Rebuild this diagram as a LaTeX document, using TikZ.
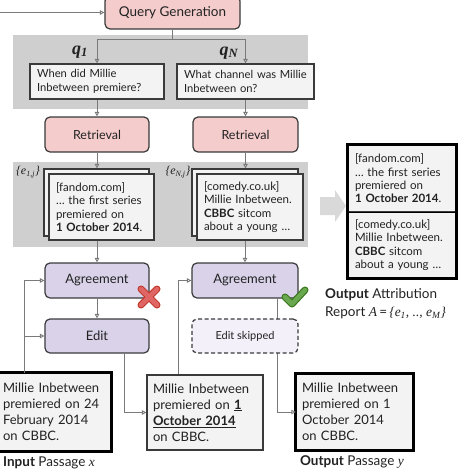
\documentclass[tikz,border=0pt]{standalone}
\usepackage{fontspec}
\setmainfont{Lato}
\newfontfamily\serifit{Liberation Serif}
\usetikzlibrary{arrows.meta,calc}
\definecolor{panelgray}{HTML}{CFCFCF}
\definecolor{boxgray}{HTML}{F3F3F3}
\definecolor{pinkfill}{HTML}{F4CCCC}
\definecolor{lavfill}{HTML}{D9D2E9}
\definecolor{lavlight}{HTML}{F3F0FA}
\definecolor{bordc}{HTML}{3A3A3A}
\definecolor{connc}{HTML}{7A7A7A}
\definecolor{txtc}{HTML}{222222}
\definecolor{xred}{HTML}{E06666}
\definecolor{xredd}{HTML}{C0392B}
\definecolor{ckgreen}{HTML}{6AA84F}
\definecolor{ckgreend}{HTML}{38761D}
\newcommand\varit[1]{{\serifit\itshape #1}}
\tikzset{
  panelbox/.style={fill=panelgray, draw=none, inner sep=0pt},
  stepbox/.style={draw=bordc, line width=1.2pt, rounded corners=5pt, inner sep=0pt, text=txtc, font=\fontsize{13}{15}\selectfont},
  pinkbox/.style={stepbox, fill=pinkfill},
  lavbox/.style={stepbox, fill=lavfill},
  qbox/.style={draw=bordc, line width=1.2pt, fill=boxgray, inner xsep=7pt, inner ysep=0pt, align=left, text=txtc, font=\fontsize{11.2}{14}\selectfont},
  evbox/.style={draw=bordc, line width=1.2pt, fill=boxgray, inner xsep=7pt, inner ysep=0pt, align=left, text=txtc, font=\fontsize{11.5}{13.3}\selectfont},
  evback/.style={draw=bordc, line width=1.2pt, fill=boxgray, inner sep=0pt},
  psgbox/.style={fill=boxgray, inner xsep=6pt, inner ysep=0pt, align=left, text=txtc, font=\fontsize{13}{16}\selectfont},
  conn/.style={draw=connc, line width=0.9pt},
  arr/.style={conn, -{Triangle[open,length=4.5pt,width=4.5pt]}},
  lbl/.style={inner sep=0pt, text=txtc, font=\fontsize{13.5}{18}\selectfont},
}
\begin{document}
\begin{tikzpicture}[x=1pt,y=-1pt]
\useasboundingbox (0,0) rectangle (474,474);
% panels
\node[panelbox, minimum width=295pt, minimum height=74pt] (panelA) at (160.5,72) {};
\node[panelbox, minimum width=295pt, minimum height=85pt] (panelB) at (160.5,204.5) {};
% query generation
\node[pinkbox, minimum width=135pt, minimum height=33pt, font=\fontsize{13.5}{16}\selectfont] (qgen) at (172.5,12.5) {Query Generation};
\coordinate (inL) at (0,12.5);
\draw[arr] (inL) -- (qgen.west);
% query boxes
\node[qbox, text width=120pt, minimum height=35pt] (q1box) at (97,81.5) {When did Millie\\Inbetween premiere?};
\node[qbox, text width=123pt, minimum height=35pt] (qNbox) at (245.5,81.5) {What channel was Millie\\Inbetween on?};
\draw[arr] (qgen.south) -- ++(0,10) -| (q1box.north);
\draw[arr] (qgen.south) -- ++(0,10) -| (qNbox.north);
\node[text=txtc, inner sep=0pt, font=\fontsize{18}{18}\selectfont] (q1lab) at (80,52) {\varit{\bfseries q\textsubscript{1}}};
\node[text=txtc, inner sep=0pt, font=\fontsize{18}{18}\selectfont] (qNlab) at (229,53) {\varit{\bfseries q\textsubscript{N}}};
% retrieval
\node[pinkbox, minimum width=104pt, minimum height=35pt, font=\fontsize{12.5}{15}\selectfont] (ret1) at (97,134.5) {Retrieval};
\node[pinkbox, minimum width=105pt, minimum height=35pt, font=\fontsize{12.5}{15}\selectfont] (retN) at (245.5,134.5) {Retrieval};
\draw[arr] (q1box.south) -- (ret1.north);
\draw[arr] (qNbox.south) -- (retN.north);
% evidence
\node[evback, minimum width=105pt, minimum height=67pt] (ev1back) at (96.5,202.5) {};
\node[evbox, text width=91pt, minimum height=66pt] (ev1) at (101.5,207) {[fandom.com]\\\dots\ the first series\\premiered on\\\textbf{1 October 2014}.};
\node[evback, minimum width=106pt, minimum height=67pt] (evNback) at (245,202.5) {};
\node[evbox, text width=92pt, minimum height=66pt] (evN) at (250,207) {[comedy.co.uk]\\Millie Inbetween.\\\textbf{CBBC} sitcom\\about a young \dots};
\draw[arr] (ret1.south) -- (ret1.south |- ev1back.north);
\draw[arr] (retN.south) -- (retN.south |- evNback.north);
\node[text=txtc, inner sep=0pt, font=\fontsize{12}{12}\selectfont] (e1lab) at (28,172) {\varit{\{e\textsubscript{1,j}\}}};
\node[text=txtc, inner sep=0pt, font=\fontsize{12}{12}\selectfont] (eNlab) at (178,172) {\varit{\{e\textsubscript{N,j}\}}};
% agreement / edit
\node[lavbox, minimum width=104pt, minimum height=35pt] (agr1) at (97,280.5) {Agreement};
\node[lavbox, minimum width=104pt, minimum height=34pt] (edit) at (97,336) {Edit};
\node[lavbox, minimum width=106pt, minimum height=35pt] (agrN) at (245,280.5) {Agreement};
\draw[arr] (agr1.north |- ev1.south) -- (agr1.north);
\draw[arr] (agrN.north |- evN.south) -- (agrN.north);
\draw[arr] (agr1.south) -- (edit.north);
% passages
\node[psgbox, text width=102pt, minimum height=78pt] (inp) at (54,412) {Millie Inbetween\\premiered on 24\\February 2014\\on CBBC.};
\draw[black, line width=3pt] (inp.north west) rectangle (inp.south east);
\node[psgbox, draw=bordc, line width=1.2pt, text width=104pt, minimum height=75pt] (mid) at (205,412.5) {Millie Inbetween\\premiered on \underline{\textbf{1}}\\\underline{\textbf{October 2014}}\\on CBBC.};
\node[psgbox, text width=105pt, minimum height=76pt] (out) at (354.5,412) {Millie Inbetween\\premiered on 1\\October 2014\\on CBBC.};
\draw[black, line width=3pt] (out.north west) rectangle (out.south east);
% feedback connectors
\coordinate (fbL) at (24,373);
\draw[arr] (fbL) |- (agr1.west);
\draw[arr] (fbL |- edit.west) -- (edit.west);
\draw[arr] ([xshift=27pt]edit.south) |- (mid.west);
\draw[arr] ([xshift=-27pt]mid.north) |- (agrN.west);
\draw[arr] ([xshift=32pt]agrN.south) |- (out.west);
% edit skipped (drawn over the connector)
\node[stepbox, fill=lavlight, dashed, dash pattern=on 4pt off 2.5pt, minimum width=106pt, minimum height=34pt, font=\fontsize{11}{13}\selectfont] (skip) at (245,336) {Edit skipped};
% marks
\draw[xredd, line width=7pt, line cap=round] (141,289) -- (157,305) (157,289) -- (141,305);
\draw[xred, line width=4.6pt, line cap=round] (141,289) -- (157,305) (157,289) -- (141,305);
\draw[ckgreend, line width=7pt, line cap=round, line join=round] (285,297) -- (292,304) -- (305,290);
\draw[ckgreen, line width=4.6pt, line cap=round, line join=round] (285,297) -- (292,304) -- (305,290);
% big gray arrow
\fill[gray!30] (320,197) -- (335,197) -- (335,190) -- (346,206) -- (335,222) -- (335,215) -- (320,215) -- cycle;
% attribution report
\node[evbox, text width=94pt, minimum height=67pt] (rep1) at (402,178.5) {[fandom.com]\\\dots\ the first series\\premiered on\\\textbf{1 October 2014}.};
\node[evbox, text width=94pt, minimum height=66pt] (rep2) at (402,245) {[comedy.co.uk]\\Millie Inbetween.\\\textbf{CBBC} sitcom\\about a young \dots};
\draw[black, line width=3pt] (rep1.north west) rectangle (rep2.south east);
\draw[black, line width=1.5pt] (rep1.south west) -- (rep1.south east);
% labels
\node[lbl, anchor=west, align=left] (replab) at (325,304) {\textbf{Output} Attribution\\Report \varit{A}\,=\,\varit{\{e\textsubscript{1}, .., e\textsubscript{M}\}}};
\node[lbl, anchor=west] (inplab) at (3,463) {\textbf{Input} Passage \varit{x}};
\node[lbl] (outlab) at (352,462) {\textbf{Output} Passage \varit{y}};
\end{tikzpicture}
\end{document}
